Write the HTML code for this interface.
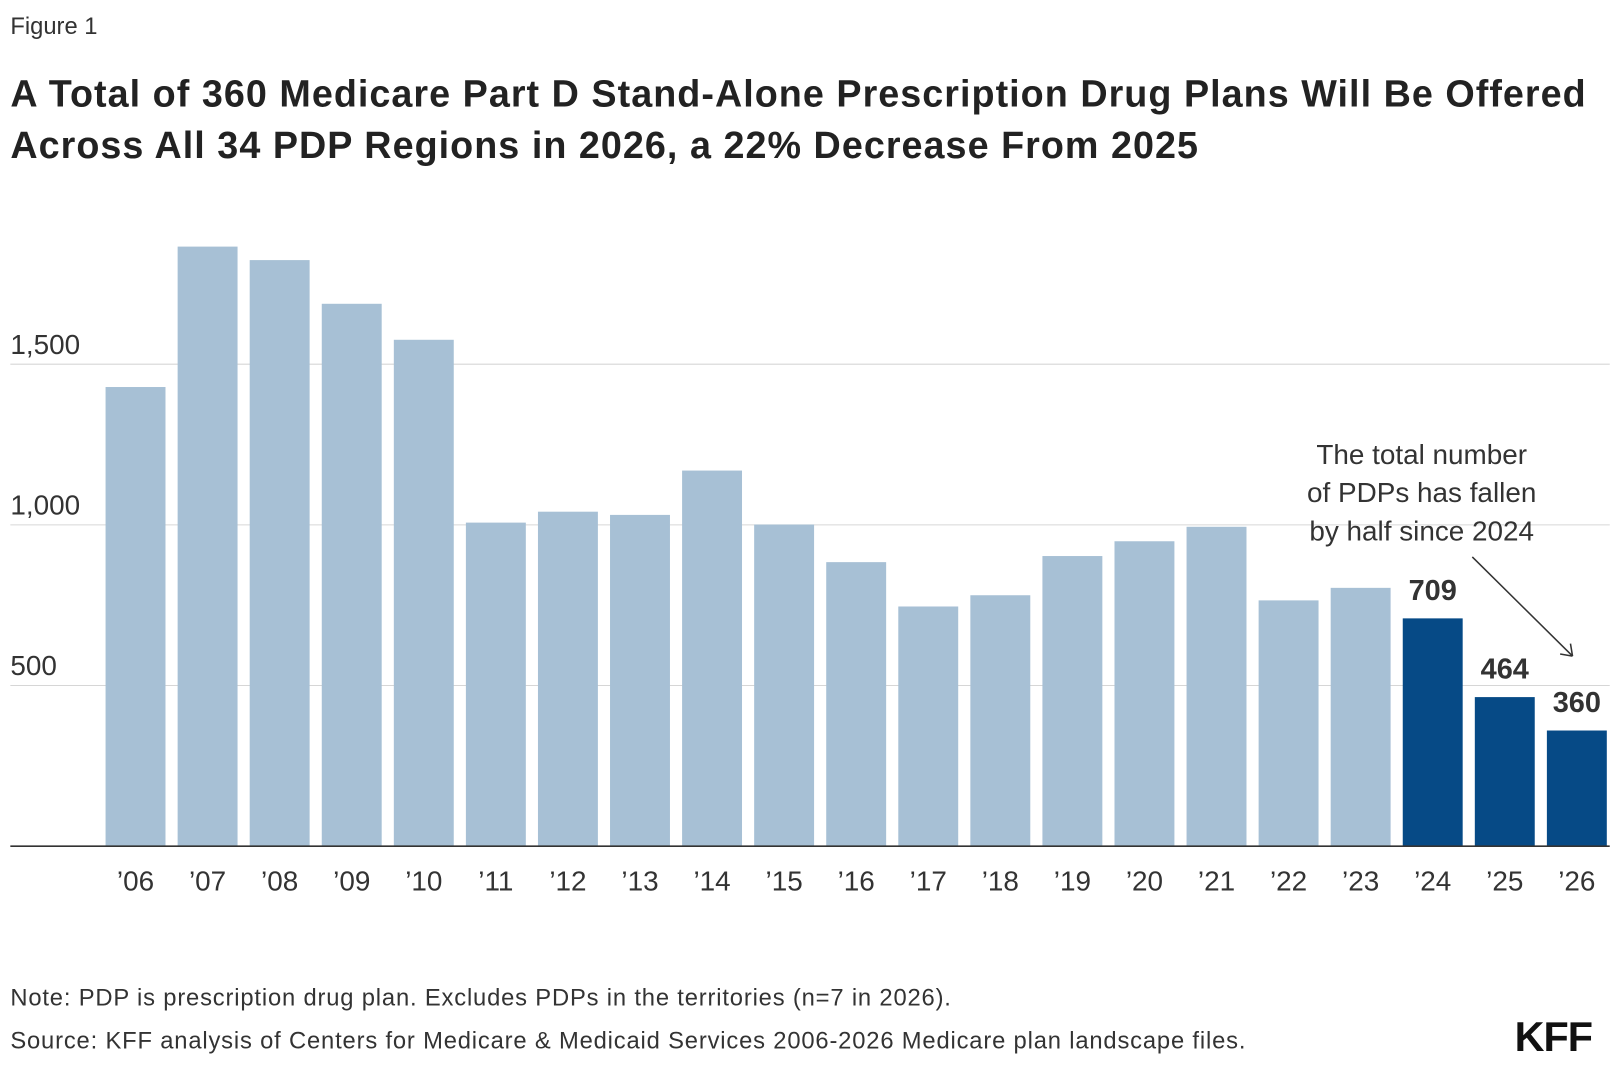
<!DOCTYPE html>
<html><head><meta charset="utf-8"><style>
html,body{margin:0;padding:0;background:#fff;overflow:hidden}
#wrap{width:1568px;height:1036px;position:relative;transform:scale(1.0332);transform-origin:0 0;font-family:"Liberation Sans",sans-serif;color:#333}
.t{position:absolute;white-space:nowrap}
</style></head><body>
<div id="wrap">
<div class="t" style="left:10px;top:12px;font-size:23px;color:#333">Figure 1</div>
<div class="t" style="left:10px;top:66px;font-size:36.5px;font-weight:bold;line-height:50px;color:#222;letter-spacing:1px">A Total of 360 Medicare Part D Stand-Alone Prescription Drug Plans Will Be Offered<br>Across All 34 PDP Regions in 2026, a 22% Decrease From 2025</div>
<svg id="chart" width="1568" height="900" style="position:absolute;left:0;top:0"></svg>
<div class="t" style="left:10px;top:952px;font-size:23px;letter-spacing:0.8px">Note: PDP is prescription drug plan. Excludes PDPs in the territories (n=7 in 2026).</div>
<div class="t" style="left:10px;top:994px;font-size:23px;letter-spacing:0.8px">Source: KFF analysis of Centers for Medicare &amp; Medicaid Services 2006-2026 Medicare plan landscape files.</div>
<div class="t" style="left:1466px;top:982px;font-size:40px;font-weight:bold;color:#111;letter-spacing:-1px">KFF</div>
</div>
<script>
const categories=["’06","’07","’08","’09","’10","’11","’12","’13","’14","’15","’16","’17","’18","’19","’20","’21","’22","’23","’24","’25","’26"];
const values=[1429,1866,1824,1688,1576,1007,1041,1031,1169,1001,884,746,781,903,949,994,765,804,709,464,360];
const highlighted=[18,19,20];
const yTicks=[500,1000,1500];
const yTickLabels=["500","1,000","1,500"];
const NS="http://www.w3.org/2000/svg";
const svg=document.getElementById('chart');
const base=819, pxPer=155.5/500, x0=96.3, step=69.75, bw=58;
const y=v=>base-v*pxPer;
const x=i=>x0+i*step+(step-bw)/2;
function mk(t,a){const e=document.createElementNS(NS,t);for(const k in a)e.setAttribute(k,a[k]);svg.appendChild(e);return e;}
yTicks.forEach((v,i)=>{
 const g=mk('line',{x1:10,x2:1558,y1:y(v),y2:y(v),stroke:'#d6d6d6','stroke-width':1});
 
 
 const t=mk('text',{x:10,y:y(v)-10,'font-size':27,fill:'#333','font-family':'Liberation Sans, sans-serif'});
 t.textContent=yTickLabels[i];
 
 
});
values.forEach((v,i)=>{
 const hi=highlighted.includes(i);
 const r=mk('rect',{x:x(i),y:y(v),width:bw,height:base-y(v),fill:hi?'#064a86':'#a7c0d5'});
 
 
 const t=mk('text',{x:x(i)+bw/2,y:862,'font-size':27,fill:'#333','text-anchor':'middle','font-family':'Liberation Sans, sans-serif'});
 t.textContent=categories[i];
 
 
 if(hi){
  const l=mk('text',{x:x(i)+bw/2,y:y(v)-18,'font-size':28,'font-weight':'bold',fill:'#333','text-anchor':'middle','font-family':'Liberation Sans, sans-serif'});
  l.textContent=String(v);
  
  
 }
});
const ax=mk('line',{x1:10,x2:1558,y1:base,y2:base,stroke:'#333','stroke-width':1.5});


["The total number","of PDPs has fallen","by half since 2024"].forEach((s,i)=>{
 const t=mk('text',{x:1376,y:449+i*37,'font-size':27,fill:'#333','text-anchor':'middle','font-family':'Liberation Sans, sans-serif'});
 t.textContent=s;
 
 
});
const ar=mk('path',{d:'M1425 539 L1522 635 M1522 635 L1510 633 M1522 635 L1520 623',stroke:'#333','stroke-width':1.5,fill:'none'});


</script>
</body></html>
